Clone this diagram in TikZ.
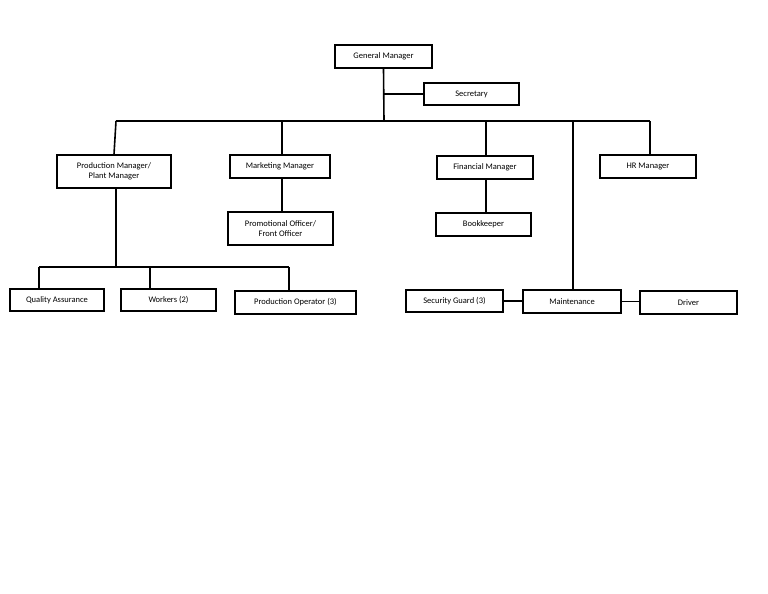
\documentclass[tikz,border=0pt]{standalone}
\usepackage{fontspec}
\setmainfont{Carlito}
\begin{document}
\begin{tikzpicture}[x=1pt,y=-1pt,
  bx/.style={draw,line width=1.3pt,font=\fontsize{8.5}{10}\selectfont,align=center,inner sep=0pt},
  ln/.style={line width=1.6pt}]
\useasboundingbox (0,0) rectangle (768,594);
\newcommand{\bxat}[6]{\node[bx,minimum width=#4-#2,minimum height=#5-#3] (#1) at ({(#2+#4)/2},{(#3+#5)/2}) {#6};}
\bxat{gm}{335}{45}{432}{68}{General Manager}
\bxat{sec}{424}{83}{519}{105}{Secretary}
\bxat{pm}{57}{155}{171}{188}{Production Manager/\\Plant Manager}
\bxat{mm}{230}{155}{330}{178}{Marketing Manager}
\bxat{fm}{437}{156}{533}{179}{Financial Manager}
\bxat{hr}{600}{155}{696}{178}{HR Manager}
\bxat{po}{228}{212}{333}{245}{Promotional Officer/\\Front Officer}
\bxat{bk}{436}{213}{531}{236}{Bookkeeper}
\bxat{qa}{10}{289}{104}{311}{Quality Assurance}
\bxat{wk}{121}{289}{216}{311}{Workers (2)}
\bxat{op}{235}{291}{356}{314}{Production Operator (3)}
\bxat{sg}{406}{290}{503}{312}{Security Guard (3)}
\bxat{mt}{523}{290}{621}{313}{Maintenance}
\bxat{dr}{640}{291}{737}{314}{Driver}
\coordinate (top) at (384,121);
\draw[ln] (gm.south) -- (top);
\draw[ln] (384,94) -- (sec.west);
\draw[ln] (116,121) -- (650,121);
\draw[ln] (pm.north) -- (116,121);
\draw[ln] (mm.north -| 282,0) -- (282,121);
\draw[ln] (fm.north -| 486,0) -- (486,121);
\draw[ln] (hr.north -| 650,0) -- (650,121);
\draw[ln] (mt.north -| 573,0) -- (573,121);
\draw[ln] (mm.south -| 282,0) -- (po.north -| 282,0);
\draw[ln] (fm.south -| 486,0) -- (bk.north -| 486,0);
\draw[ln] (pm.south -| 116,0) -- (116,267);
\draw[ln] (39,267) -- (289,267);
\draw[ln] (39,267) -- (qa.north -| 39,0);
\draw[ln] (150,267) -- (wk.north -| 150,0);
\draw[ln] (289,267) -- (op.north -| 289,0);
\draw[ln] (sg.east) -- (sg.east -| mt.west);
\draw[ln] (mt.east) -- (mt.east -| dr.west);
\end{tikzpicture}
\end{document}
